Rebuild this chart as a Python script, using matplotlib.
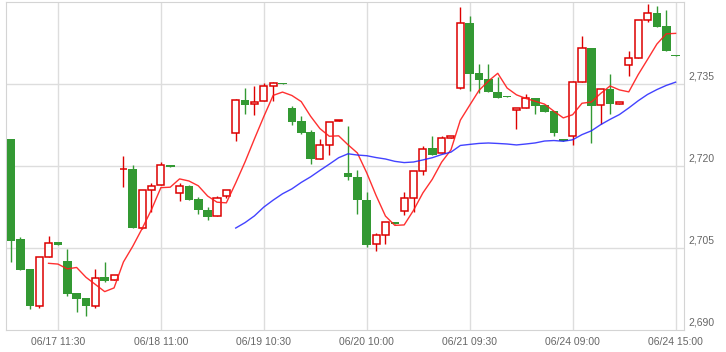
import numpy as np
import matplotlib
matplotlib.use('Agg')
import matplotlib.pyplot as plt
from matplotlib.transforms import blended_transform_factory

# candle data
opens = [2724.9, 2706.6, 2701.2, 2694.4, 2703.3, 2706.1, 2702.6, 2696.8, 2695.9, 2694.3,
         2699.7, 2699.1, 2719.4, 2719.4, 2708.7, 2715.7, 2716.5, 2720.1, 2715.0, 2716.3,
         2713.9, 2711.9, 2710.8, 2714.5, 2726.0, 2732.1, 2731.3, 2731.8, 2734.6, 2735.1,
         2730.6, 2728.2, 2726.2, 2721.2, 2723.8, 2728.2, 2718.7, 2718.0, 2713.8, 2705.7,
         2707.4, 2709.8, 2711.7, 2714.1, 2719.1, 2723.3, 2722.3, 2725.2, 2734.2, 2746.1,
         2737.0, 2735.9, 2733.5, 2732.8, 2730.3, 2730.7, 2732.4, 2731.1, 2730.1, 2724.9,
         2725.4, 2735.3, 2741.6, 2731.1, 2734.1, 2731.4, 2738.5, 2739.7, 2746.7, 2748.0,
         2745.6, 2740.3]
highs = [2724.9, 2707.0, 2701.2, 2703.3, 2707.2, 2706.1, 2704.8, 2696.8, 2695.9, 2701.1,
         2702.4, 2700.0, 2721.8, 2720.1, 2715.7, 2716.8, 2720.7, 2720.1, 2716.8, 2716.5,
         2714.3, 2712.5, 2714.5, 2715.7, 2732.2, 2734.2, 2734.6, 2735.2, 2735.4, 2735.1,
         2730.9, 2729.2, 2726.5, 2724.9, 2728.0, 2728.5, 2727.3, 2719.2, 2715.2, 2707.7,
         2709.7, 2709.8, 2715.2, 2719.0, 2723.7, 2725.4, 2725.4, 2725.4, 2749.0, 2747.4,
         2738.6, 2738.6, 2736.2, 2732.8, 2730.7, 2733.1, 2732.5, 2731.1, 2730.1, 2724.9,
         2735.5, 2743.8, 2741.6, 2734.0, 2736.8, 2731.7, 2741.1, 2746.7, 2749.6, 2749.3,
         2748.5, 2740.3]
lows = [2702.5, 2700.9, 2693.8, 2694.0, 2703.3, 2705.6, 2696.2, 2693.3, 2692.6, 2694.0,
        2698.7, 2699.1, 2716.1, 2708.7, 2708.5, 2711.5, 2716.5, 2719.8, 2713.6, 2713.8,
        2711.2, 2710.1, 2710.8, 2714.2, 2724.5, 2729.5, 2729.3, 2731.8, 2731.9, 2735.0,
        2727.5, 2725.8, 2720.3, 2721.2, 2722.1, 2728.2, 2717.4, 2711.2, 2705.1, 2704.5,
        2705.8, 2709.4, 2711.0, 2711.6, 2718.4, 2722.1, 2722.3, 2725.2, 2734.0, 2733.8,
        2733.3, 2733.6, 2732.5, 2732.6, 2726.7, 2730.7, 2729.5, 2729.9, 2725.4, 2724.6,
        2723.8, 2735.3, 2724.2, 2727.6, 2729.6, 2731.4, 2736.5, 2739.7, 2746.3, 2745.5,
        2741.1, 2740.1]
closes = [2706.3, 2701.0, 2694.4, 2703.3, 2706.0, 2705.6, 2696.6, 2695.7, 2694.3, 2699.5,
          2699.0, 2700.0, 2719.4, 2708.7, 2715.7, 2716.3, 2720.1, 2719.8, 2716.3, 2713.8,
          2711.9, 2710.7, 2714.2, 2715.7, 2732.0, 2731.2, 2731.7, 2734.6, 2735.1, 2735.0,
          2728.1, 2726.1, 2721.2, 2723.8, 2728.0, 2728.5, 2717.9, 2713.7, 2705.6, 2707.3,
          2709.7, 2709.4, 2714.1, 2719.0, 2723.2, 2722.1, 2725.1, 2725.4, 2746.1, 2736.9,
          2735.7, 2733.6, 2732.5, 2732.6, 2730.7, 2732.4, 2731.0, 2729.9, 2726.1, 2724.6,
          2735.3, 2741.5, 2731.0, 2734.0, 2731.4, 2731.7, 2739.7, 2746.7, 2747.9, 2745.5,
          2741.1, 2740.1]

tick_pos = [5, 16, 27, 38, 49, 60, 71]
tick_labels = ['06/17 11:30', '06/18 11:00', '06/19 10:30', '06/20 10:00',
               '06/21 09:30', '06/24 09:00', '06/24 15:00']
y_ticks = [2690, 2705, 2720, 2735]

GREEN = '#339933'
RED = '#dd0000'
GRID = '#dddddd'

o = np.array(opens)
h = np.array(highs)
l = np.array(lows)
c = np.array(closes)
x = np.arange(len(o))
up = c >= o


def moving_avg(vals, n):
    s = np.convolve(vals, np.ones(n) / n, mode='valid')
    return np.arange(n - 1, len(vals)), s


fig = plt.figure(figsize=(7.26, 3.52), dpi=100)
ax = fig.add_axes([5.5 / 726, 22 / 352, (684 - 5.5) / 726, 328 / 352])
ax.set_xlim(-0.6, 71.9)
ax.set_ylim(2690, 2750)

for v in tick_pos:
    ax.axvline(v, color=GRID, lw=1, zorder=0)
for v in y_ticks[1:]:
    ax.axhline(v, color=GRID, lw=1, zorder=0)

# wicks
ax.vlines(x[~up], l[~up], h[~up], color=GREEN, lw=1, zorder=2)
ax.vlines(x[up], l[up], h[up], color=RED, lw=1, zorder=2)

# bodies
ax.bar(x[~up], o[~up] - c[~up], bottom=c[~up], width=0.92, color=GREEN, zorder=3)
ax.bar(x[up], c[up] - o[up], bottom=o[up], width=0.75, facecolor='white',
       edgecolor=RED, linewidth=1.1, zorder=3)

mx, ma5 = moving_avg(c, 5)
ax.plot(mx, ma5, color='#ff1a1a', lw=1, alpha=0.9, zorder=4)
mx, ma25 = moving_avg(c, 25)
ax.plot(mx, ma25, color='#2222ff', lw=1, alpha=0.85, zorder=4)

for s in ax.spines.values():
    s.set_color('#d4d4d4')

ax.set_xticks(tick_pos)
ax.set_xticklabels(tick_labels)
ax.set_yticks([])
ax.tick_params(axis='x', length=0, pad=5, labelsize=7.5, labelcolor='#666666')
for t in ax.get_xticklabels():
    t.set_fontfamily('Liberation Sans')

trans = blended_transform_factory(ax.transAxes, ax.transData)
for v in y_ticks:
    ax.text(1.006, v + 0.5, f'{v:,}', transform=trans, va='bottom', ha='left',
            fontsize=7.5, color='#666666', family='Liberation Sans')

fig.savefig('out.png', dpi=100)
